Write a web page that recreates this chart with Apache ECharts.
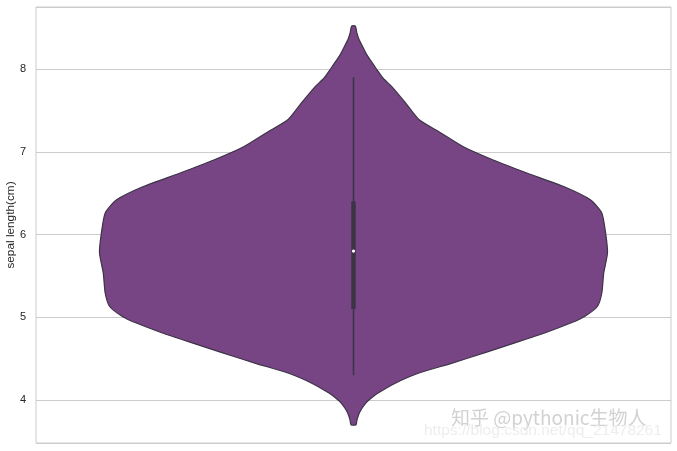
<!DOCTYPE html>
<html>
<head>
<meta charset="utf-8">
<script src="https://cdn.jsdelivr.net/npm/echarts@6/dist/echarts.min.js"></script>
<style>
html,body{margin:0;padding:0;background:#fff;}
#chart{width:677px;height:451px;}
</style>
</head>
<body>
<div id="chart"></div>
<script>
// Violin outline: sepal length value -> half width (category width units)
var violinValues = [3.70, 3.76, 3.84, 3.90, 3.96, 4.02, 4.08, 4.20, 4.32, 4.44, 4.57, 4.69, 4.81, 4.93, 5.01, 5.13, 5.29, 5.53, 5.78, 6.02, 6.26, 6.42, 6.58, 6.74, 6.90, 7.06, 7.23, 7.39, 7.59, 7.79, 7.89, 8.01, 8.11, 8.19, 8.27, 8.35, 8.44, 8.52];
var violinHalfWidth = [0.004, 0.0055, 0.009, 0.0134, 0.019, 0.0276, 0.038, 0.065, 0.101, 0.153, 0.206, 0.254, 0.301, 0.342, 0.364, 0.384, 0.391, 0.394, 0.400, 0.397, 0.391, 0.373, 0.331, 0.274, 0.220, 0.173, 0.137, 0.103, 0.082, 0.060, 0.0466, 0.0354, 0.0263, 0.0197, 0.0145, 0.0091, 0.0052, 0.003];
// Inner box stats
var boxStats = [4.3, 5.1, 5.8, 6.4, 7.9]; // min, q1, median, q3, max
var yTicks = [4, 5, 6, 7, 8];
var yAxisName = 'sepal length(cm)';

var chart = echarts.init(document.getElementById('chart'), null, {renderer: 'canvas'});

var violinData = violinValues.map(function (v, i) { return [violinHalfWidth[i], v]; });

var option = {
  animation: false,
  backgroundColor: '#ffffff',
  grid: {left: 36, right: 6, top: 7, bottom: 8, show: true, borderColor: '#cccccc', borderWidth: 1,
         backgroundColor: 'transparent', containLabel: false, outerBoundsMode: 'none'},
  xAxis: {
    type: 'value', min: -0.5, max: 0.5,
    axisLine: {show: false}, axisTick: {show: false}, axisLabel: {show: false}, splitLine: {show: false}
  },
  yAxis: {
    type: 'value', min: 3.48, max: 8.75, splitNumber: 5,
    name: yAxisName, nameLocation: 'middle', nameGap: 19, nameRotate: 90, nameMoveOverlap: false,
    nameTextStyle: {color: '#262626', fontSize: 11.8, fontFamily: 'Liberation Sans, Arial, sans-serif'},
    axisLine: {show: false}, axisTick: {show: false},
    axisLabel: {
      color: '#262626', fontSize: 11, margin: 10, fontFamily: 'Liberation Sans, Arial, sans-serif',
      showMinLabel: false, showMaxLabel: false,
      formatter: function (v) { return yTicks.indexOf(v) >= 0 ? String(v) : ''; }
    },
    splitLine: {show: true, lineStyle: {color: '#cccccc', width: 1}}
  },
  graphic: [
    {type: 'text', left: 450, top: 407, z: 100, silent: true,
     style: {text: '知乎 @pythonic生物人', font: '19px "Noto Sans CJK SC", sans-serif', fill: '#d2d2d2', stroke: '#ffffff', lineWidth: 2}},
    {type: 'text', left: 424, top: 423, z: 101, silent: true,
     style: {text: 'https://blog.csdn.net/qq_21478261', font: '15.5px "Liberation Sans", Arial, sans-serif', fill: '#ebebeb', opacity: 0.9}}
  ],
  series: [{
    type: 'custom',
    coordinateSystem: 'cartesian2d',
    data: [0],
    clip: false,
    renderItem: function (params, api) {
      var pts = [];
      for (var i = 0; i < violinData.length; i++) {
        pts.push(api.coord([violinData[i][0], violinData[i][1]]));
      }
      for (var j = violinData.length - 1; j >= 0; j--) {
        pts.push(api.coord([-violinData[j][0], violinData[j][1]]));
      }
      var lo = api.coord([0, boxStats[0]]);
      var q1 = api.coord([0, boxStats[1]]);
      var med = api.coord([0, boxStats[2]]);
      var q3 = api.coord([0, boxStats[3]]);
      var hi = api.coord([0, boxStats[4]]);
      return {
        type: 'group',
        children: [
          {type: 'polygon', shape: {points: pts, smooth: 0.2},
           style: {fill: '#774584', stroke: '#3d3347', lineWidth: 1.2}},
          {type: 'line', shape: {x1: lo[0], y1: lo[1], x2: hi[0], y2: hi[1]},
           style: {stroke: '#3d3347', lineWidth: 1.5}},
          {type: 'line', shape: {x1: q1[0], y1: q1[1], x2: q3[0], y2: q3[1]},
           style: {stroke: '#3d3347', lineWidth: 4.5}},
          {type: 'circle', shape: {cx: med[0], cy: med[1], r: 1.6},
           style: {fill: '#ffffff', stroke: null}}
        ]
      };
    }
  }]
};
chart.setOption(option);
</script>
</body>
</html>
